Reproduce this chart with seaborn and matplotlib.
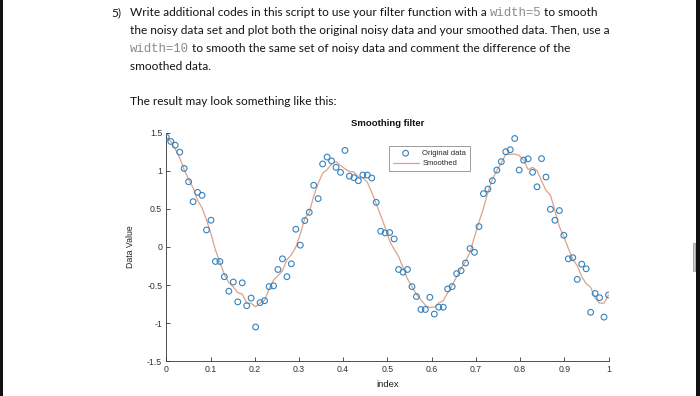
import numpy as np
import pandas as pd
import matplotlib
matplotlib.use("Agg")
import matplotlib.pyplot as plt
import seaborn as sns
from matplotlib.patches import Rectangle

# ---------------- data ----------------
index_values = list(np.linspace(0, 1, 100))
noisy_values = [
    1.44, 1.385, 1.336, 1.245, 1.031, 0.857, 0.595, 0.717, 0.678, 0.224,
    0.351, -0.19, -0.19, -0.39, -0.58, -0.46, -0.72, -0.47, -0.77, -0.67,
    -1.05, -0.73, -0.705, -0.52, -0.51, -0.295, -0.155, -0.39, -0.22, 0.233,
    0.024, 0.347, 0.455, 0.81, 0.635, 1.09, 1.18, 1.13, 1.045, 0.98,
    1.267, 0.93, 0.91, 0.87, 0.944, 0.944, 0.905, 0.586, 0.207, 0.185,
    0.19, 0.106, -0.295, -0.33, -0.295, -0.52, -0.65, -0.82, -0.82, -0.66,
    -0.88, -0.79, -0.79, -0.55, -0.52, -0.35, -0.31, -0.21, -0.02, -0.07,
    0.268, 0.70, 0.76, 0.87, 1.01, 1.12, 1.25, 1.276, 1.424, 1.01,
    1.14, 1.158, 0.98, 0.79, 1.16, 0.918, 0.495, 0.351, 0.478, 0.154,
    -0.155, -0.14, -0.425, -0.225, -0.286, -0.857, -0.61, -0.665, -0.92, -0.63,
]
smoothed_values = [
    1.44, 1.387, 1.287, 1.171, 1.013, 0.889, 0.776, 0.614, 0.513, 0.356,
    0.175, -0.039, -0.200, -0.362, -0.468, -0.524, -0.600, -0.618, -0.736, -0.738,
    -0.785, -0.735, -0.703, -0.552, -0.437, -0.374, -0.314, -0.165, -0.102, -0.001,
    0.168, 0.374, 0.454, 0.667, 0.834, 0.969, 1.016, 1.085, 1.120, 1.070,
    1.026, 0.991, 0.984, 0.920, 0.915, 0.850, 0.717, 0.565, 0.415, 0.255,
    0.079, -0.029, -0.125, -0.267, -0.418, -0.523, -0.621, -0.694, -0.766, -0.794,
    -0.788, -0.734, -0.706, -0.600, -0.504, -0.388, -0.282, -0.192, -0.068, 0.134,
    0.328, 0.506, 0.722, 0.892, 1.002, 1.105, 1.216, 1.216, 1.220, 1.202,
    1.142, 1.016, 1.046, 1.001, 0.869, 0.743, 0.680, 0.479, 0.265, 0.138,
    -0.018, -0.158, -0.246, -0.387, -0.481, -0.529, -0.668, -0.736, -0.738, -0.63,
]
x_ticks = [0, 0.1, 0.2, 0.3, 0.4, 0.5, 0.6, 0.7, 0.8, 0.9, 1]
x_tick_labels = ["0", "0.1", "0.2", "0.3", "0.4", "0.5", "0.6", "0.7", "0.8", "0.9", "1"]
y_ticks = [-1.5, -1, -0.5, 0, 0.5, 1, 1.5]
y_tick_labels = ["-1.5", "-1", "-0.5", "0", "0.5", "1", "1.5"]

df = pd.DataFrame({"index": index_values, "noisy": noisy_values, "smoothed": smoothed_values})

# ---------------- figure ----------------
sns.set_style("white")
plt.rcParams["font.family"] = ["Liberation Sans", "DejaVu Sans"]

W, H = 700, 396
fig = plt.figure(figsize=(W / 100, H / 100), dpi=100)
fig.patch.set_facecolor("white")

def fx(px):
    return px / W

def fy(py):
    return 1 - py / H

# screenshot borders and scrollbar thumb
fig.add_artist(Rectangle((fx(696), 0), fx(4), 1, transform=fig.transFigure,
                         facecolor="#111111", edgecolor="none"))
fig.add_artist(Rectangle((0, 0), fx(3), 1, transform=fig.transFigure,
                         facecolor="#111111", edgecolor="none"))
fig.add_artist(Rectangle((fx(692.5), fy(271)), fx(2.5), fy(243) - fy(271), transform=fig.transFigure,
                         facecolor="#d0d0d0", edgecolor="#8a8a8a", linewidth=0.5))

# ---------------- problem text ----------------
renderer = fig.canvas.get_renderer()
body_font = ["Lato", "DejaVu Sans"]
mono_font = ["Liberation Mono", "DejaVu Sans Mono"]
text_col = "#141414"
mono_col = "#8a8a8a"

probe = fig.text(0, 0, "the noisy data set and plot both the original noisy data and your smoothed data. Then, use a",
                 fontsize=10, family=body_font)
w_probe = probe.get_window_extent(renderer).width
probe.remove()
body_size = 10 * 481 / w_probe

probe = fig.text(0, 0, "width=10", fontsize=10, family=mono_font)
w_probe = probe.get_window_extent(renderer).width
probe.remove()
mono_size = 10 * 60 / w_probe

def put_line(py, x0, segments):
    x = x0
    for txt, kind in segments:
        if kind == "mono":
            t = fig.text(fx(x), fy(py), txt, fontsize=mono_size, family=mono_font,
                         color=mono_col, va="center_baseline", ha="left")
        else:
            t = fig.text(fx(x), fy(py), txt, fontsize=body_size, family=body_font,
                         color=text_col, va="center_baseline", ha="left")
        x += t.get_window_extent(renderer).width

fig.text(fx(111), fy(12), "5)", fontsize=body_size, family=body_font, color=text_col,
         va="center_baseline", ha="left")
put_line(12, 130, [("Write additional codes in this script to use your filter function with a ", "body"),
                   ("width=5", "mono"), (" to smooth", "body")])
put_line(30, 130, [("the noisy data set and plot both the original noisy data and your smoothed data. Then, use a", "body")])
put_line(47, 130, [("width=10", "mono"),
                   (" to smooth the same set of noisy data and comment the difference of the", "body")])
put_line(65, 130, [("smoothed data.", "body")])
put_line(101, 130, [("The result may look something like this:", "body")])

# ---------------- axes ----------------
ax_left, ax_right = 166.3, 608.5
ax_top, ax_bottom = 132.7, 361.3
ax = fig.add_axes([fx(ax_left), fy(ax_bottom), fx(ax_right - ax_left), (ax_bottom - ax_top) / H])
ax.set_facecolor("white")

sns.lineplot(data=df, x="index", y="smoothed", ax=ax, color="#dca385", linewidth=0.9,
             label="Smoothed", zorder=2)
sns.scatterplot(data=df, x="index", y="noisy", ax=ax, marker="o", s=17,
                facecolors="none", edgecolor="#3582bd", linewidth=0.8,
                label="Original data", zorder=3)

ax.set_xlim(0, 1)
ax.set_ylim(-1.5, 1.5)
ax.set_xticks(x_ticks)
ax.set_xticklabels(x_tick_labels)
ax.set_yticks(y_ticks)
ax.set_yticklabels(y_tick_labels)
ax.tick_params(axis="both", direction="in", length=3, width=0.6, color="#333333",
               labelsize=6.3, labelcolor="#333333", pad=3)
ax.tick_params(axis="both", which="both", bottom=True, left=True, top=False, right=False)
for side in ["top", "right"]:
    ax.spines[side].set_visible(False)
for side in ["left", "bottom"]:
    ax.spines[side].set_color("#333333")
    ax.spines[side].set_linewidth(0.6)

ax.set_xlabel("index", fontsize=6.8, color="#222222", labelpad=4)
ax.set_ylabel("Data Value", fontsize=6.3, color="#222222", labelpad=9)
ax.set_title("Smoothing filter", fontsize=6.8, fontweight="bold", color="#111111", pad=5)

handles, labels = ax.get_legend_handles_labels()
order = [labels.index("Original data"), labels.index("Smoothed")]
leg = ax.legend([handles[i] for i in order], [labels[i] for i in order],
                loc="upper left", bbox_to_anchor=(0.504, 0.94), borderaxespad=0,
                fontsize=5.5, frameon=True, fancybox=False, edgecolor="#8c8c8c",
                framealpha=1, handlelength=3.4, handletextpad=0.5, borderpad=0.45,
                labelspacing=0.35)
leg.get_frame().set_linewidth(0.6)

fig.savefig("out.png", dpi=100, facecolor="white")
